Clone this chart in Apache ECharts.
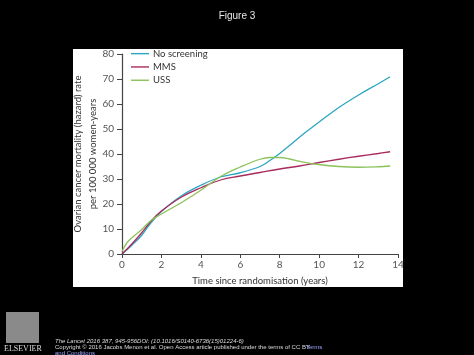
<!DOCTYPE html>
<html>
<head>
<meta charset="utf-8">
<script src="https://cdn.jsdelivr.net/npm/echarts@6/dist/echarts.min.js"></script>
<style>
html,body{margin:0;padding:0;background:#000;}
#chart{width:474px;height:355px;}
</style>
</head>
<body>
<div id="chart"></div>
<script>
// Data
const seriesNames = ["No screening", "MMS", "USS"];
const xTicks = [0, 2, 4, 6, 8, 10, 12, 14];
const yTicks = [0, 10, 20, 30, 40, 50, 60, 70, 80];

const noScreeningX = [0, 0.5, 1, 1.5, 2, 3, 4, 5, 6, 7, 7.5, 8, 8.5, 9, 9.5, 10, 11, 12, 13, 13.6];
const noScreeningY = [0, 3.5, 7.5, 12.8, 17, 23.2, 27.5, 30.8, 32.5, 35, 37.4, 40.2, 43.4, 46.7, 49.8, 52.8, 58.6, 63.6, 68.1, 70.9];

const mmsX = [0, 0.5, 1, 1.5, 2, 3, 4, 5, 6, 7, 8, 9, 10, 11, 12, 13, 13.6];
const mmsY = [0, 4, 8.5, 13.4, 17.2, 22.7, 26.5, 29.6, 31.2, 32.6, 34, 35.2, 36.6, 37.9, 39.1, 40.2, 40.9];

const ussX = [0, 0.25, 0.5, 1, 1.5, 2, 3, 4, 5, 6, 7, 7.5, 8, 8.5, 9, 10, 11, 12, 13, 13.6];
const ussY = [1, 4.5, 6.5, 9.8, 13.6, 16, 20.5, 25.5, 31, 34.8, 37.9, 38.6, 38.6, 38, 37.1, 35.8, 35, 34.7, 34.9, 35.2];

const colors = ["#2ba6c2", "#a82a5c", "#8cc25a"];

function pairs(xs, ys) { return xs.map((x, i) => [x, ys[i]]); }

const chart = echarts.init(document.getElementById('chart'));
const axisColor = '#444';
const labelColor = '#555';
const font = 'Lato';

chart.setOption({
  backgroundColor: '#000',
  animation: false,
  textStyle: { fontFamily: font },
  title: {
    text: 'Figure 3',
    left: 'center',
    top: 6,
    textStyle: { color: '#e8e8e8', fontSize: 10, fontWeight: 'normal', fontFamily: 'Liberation Sans' }
  },
  graphic: [
    { type: 'rect', z: -10, shape: { x: 73, y: 49, width: 330, height: 238 }, style: { fill: '#fff' } },
    { type: 'rect', z: 1, shape: { x: 6, y: 312, width: 33, height: 31 }, style: { fill: '#8a8a8a' } },
    { type: 'text', z: 1, x: 4, y: 345, style: { text: 'ELSEVIER', fill: '#ddd', font: '8px "Liberation Serif"' } },
    { type: 'text', z: 1, x: 55, y: 338, style: { text: 'The Lancet 2016 387, 945-956DOI: (10.1016/S0140-6736(15)01224-6)', fill: '#ddd', font: 'italic 6px "Liberation Sans"' } },
    { type: 'text', z: 1, x: 55, y: 344, style: { text: 'Copyright \u00a9 2016 Jacobs Menon et al. Open Access article published under the terms of CC BY', fill: '#ddd', font: '6px "Liberation Sans"' } },
    { type: 'text', z: 1, x: 306, y: 344, style: { text: 'Terms', fill: '#9aa6ff', font: '6px "Liberation Sans"' } },
    { type: 'text', z: 1, x: 55, y: 350, style: { text: 'and Conditions', fill: '#9aa6ff', font: '6px "Liberation Sans"' } }
  ],
  legend: {
    orient: 'vertical',
    left: 126,
    top: 42,
    icon: 'rect',
    itemWidth: 18,
    itemHeight: 1.4,
    itemGap: 0,
    data: seriesNames,
    textStyle: { color: '#333', fontSize: 9.5, lineHeight: 13.3, fontFamily: font, padding: [0, 0, 0, -1] }
  },
  grid: { left: 122, top: 54, right: 76, bottom: 101, containLabel: false },
  xAxis: {
    type: 'value',
    min: 0, max: 14, interval: 2,
    name: 'Time since randomisation (years)',
    nameLocation: 'middle',
    nameGap: 22,
    nameTextStyle: { color: '#333', fontSize: 9.5, fontFamily: font },
    axisLine: { lineStyle: { color: axisColor, width: 1.2 } },
    axisTick: { length: 4, lineStyle: { color: axisColor } },
    axisLabel: { color: labelColor, fontSize: 10, margin: 6, fontFamily: font },
    splitLine: { show: false }
  },
  yAxis: {
    type: 'value',
    min: 0, max: 80, interval: 10,
    name: 'Ovarian cancer mortality (hazard) rate\nper 100 000 women-years',
    nameLocation: 'middle',
    nameMoveOverlap: false,
    nameGap: 22,
    nameTextStyle: { color: '#333', fontSize: 9.5, lineHeight: 15, fontFamily: font },
    axisLine: { show: true, lineStyle: { color: axisColor, width: 1.2 } },
    axisTick: { show: true, length: 5, lineStyle: { color: axisColor } },
    axisLabel: { color: labelColor, fontSize: 10, margin: 8, fontFamily: font },
    splitLine: { show: false }
  },
  series: [
    { name: seriesNames[0], type: 'line', smooth: 0.4, symbol: 'none', data: pairs(noScreeningX, noScreeningY), lineStyle: { color: colors[0], width: 1.3 }, itemStyle: { color: colors[0] } },
    { name: seriesNames[1], type: 'line', smooth: 0.4, symbol: 'none', data: pairs(mmsX, mmsY), lineStyle: { color: colors[1], width: 1.3 }, itemStyle: { color: colors[1] } },
    { name: seriesNames[2], type: 'line', smooth: 0.4, symbol: 'none', data: pairs(ussX, ussY), lineStyle: { color: colors[2], width: 1.3 }, itemStyle: { color: colors[2] } }
  ]
});
</script>
</body>
</html>
